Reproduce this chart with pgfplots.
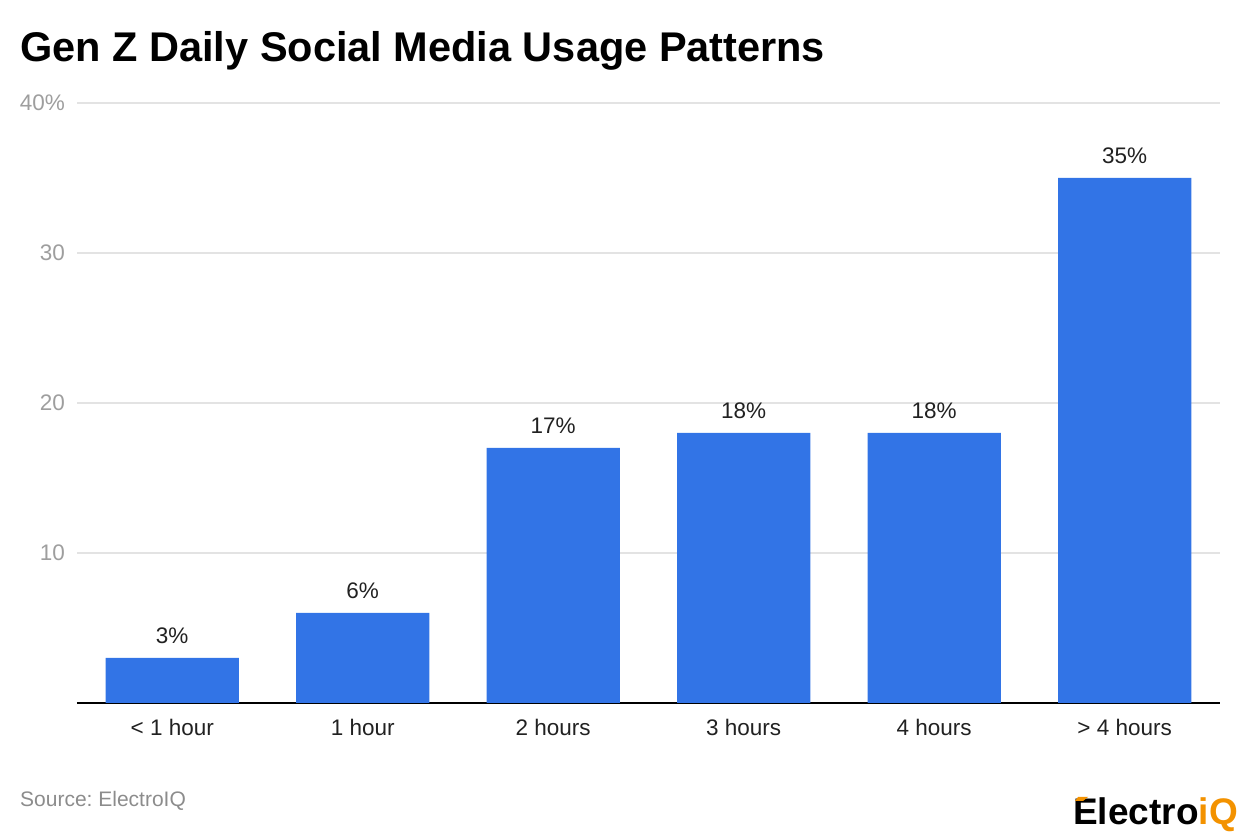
\documentclass[border=0pt]{standalone}
\usepackage{pgfplots}
\pgfplotsset{compat=1.18}
\usepackage{fontspec}
\setmainfont{Liberation Sans}
\frenchspacing

\definecolor{barblue}{HTML}{3274E6}
\definecolor{tickgray}{HTML}{9E9E9E}
\definecolor{gridgray}{HTML}{E3E3E3}
\definecolor{labeldark}{HTML}{212121}
\definecolor{srcgray}{HTML}{8C8C8C}
\definecolor{logoorange}{HTML}{F39200}

\begin{document}
\begin{tikzpicture}[x=1pt,y=1pt]
\path[use as bounding box] (0,0) rectangle (1240,834);

% title
\node[anchor=base west, inner sep=0pt, font=\fontsize{41.5}{48}\selectfont\bfseries]
  at (20,772) {Gen Z Daily Social Media Usage Patterns};

\begin{axis}[
  at={(77pt,131pt)}, anchor=south west,
  scale only axis, width=1143pt, height=600pt,
  xmin=-0.5, xmax=5.5, ymin=0, ymax=40,
  ybar, bar width=0.7,
  axis x line*=bottom, axis y line*=left,
  x axis line style={black, line width=2pt},
  y axis line style={draw=none},
  major tick length=0pt,
  /pgf/number format/assume math mode=true,
  ytick={10,20,30,40},
  yticklabels={10,20,30,40\%},
  yticklabel style={font=\fontsize{22.5}{26}\selectfont, text=tickgray,
    anchor=east, inner sep=0pt, xshift=-12pt},
  xtick={0,1,2,3,4,5},
  xticklabels={{< 1 hour},{1 hour},{2 hours},{3 hours},{4 hours},{> 4 hours}},
  xticklabel style={font=\fontsize{22.5}{26}\selectfont, text=labeldark,
    anchor=base, inner sep=0pt, yshift=-33pt},
  ymajorgrids, grid style={gridgray, line width=1.5pt},
  nodes near coords={\pgfmathprintnumber{\pgfplotspointmeta}\%},
  every node near coord/.append style={font=\fontsize{22.5}{26}\selectfont,
    text=labeldark, anchor=base, inner sep=0pt, yshift=14pt},
  clip=false,
]
\addplot[fill=barblue, draw=none] coordinates {
  (0,3) (1,6) (2,17) (3,18) (4,18) (5,35)
};
\end{axis}

% source note
\node[anchor=base west, inner sep=0pt, font=\fontsize{21}{25}\selectfont, text=srcgray]
  at (20,27) {Source: ElectroIQ};

% logo
\node[anchor=base east, inner sep=0pt, font=\fontsize{37}{44}\selectfont\bfseries]
  at (1238,9) {Electro\textcolor{logoorange}{iQ}};
\fill[logoorange] (1078,37) -- (1088,37) -- (1083,33) -- (1075,33) -- cycle;
\end{tikzpicture}
\end{document}
